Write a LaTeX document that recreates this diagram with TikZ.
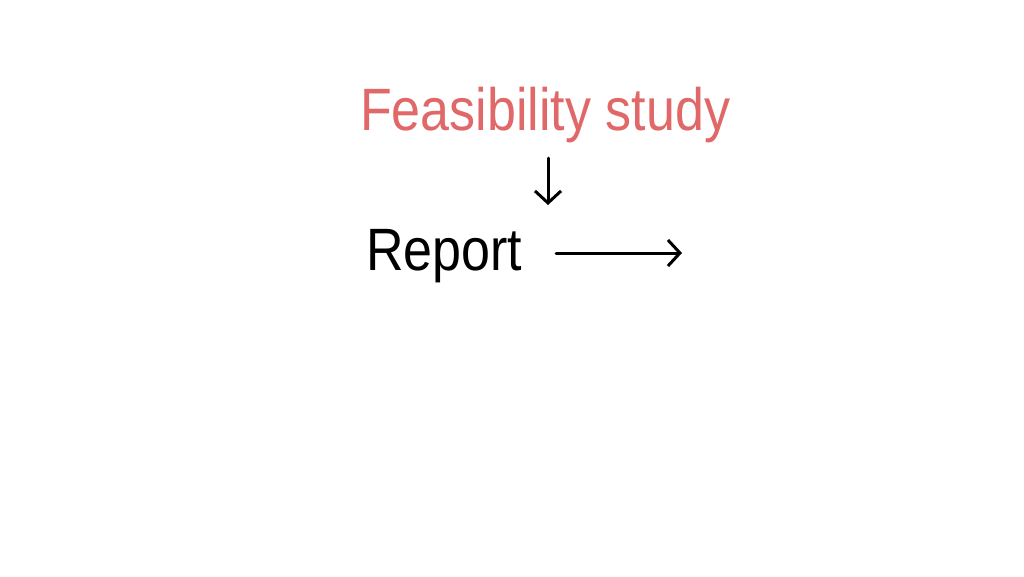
\documentclass[tikz,border=0pt]{standalone}
\usepackage{fontspec}
\setmainfont{Liberation Sans}
\usetikzlibrary{arrows.meta}
\definecolor{hwred}{RGB}{224,104,104}
\tikzset{
  hwtext/.style={inner sep=0pt, anchor=base west, yscale=1.15, font=\fontsize{52}{60}\selectfont},
  hwarrow/.style={line width=3pt, line cap=round, -{Straight Barb[length=12pt,width=26pt,line width=3pt]}}
}
\begin{document}
\begin{tikzpicture}[x=1pt,y=-1pt]
\useasboundingbox (0,0) rectangle (1024,576);
\fill[white] (0,0) rectangle (1024,576);
\node[hwtext, text=hwred] (feas) at (360,130) {Feasibility study};
\node[hwtext] (report) at (366,270) {Report};
\coordinate (d1) at (548,158);
\coordinate (d2) at (548,205);
\coordinate (r1) at (556,253);
\coordinate (r2) at (682,253);
\draw[hwarrow] (d1) -- (d2);
\draw[hwarrow] (r1) -- (r2);
\end{tikzpicture}
\end{document}
